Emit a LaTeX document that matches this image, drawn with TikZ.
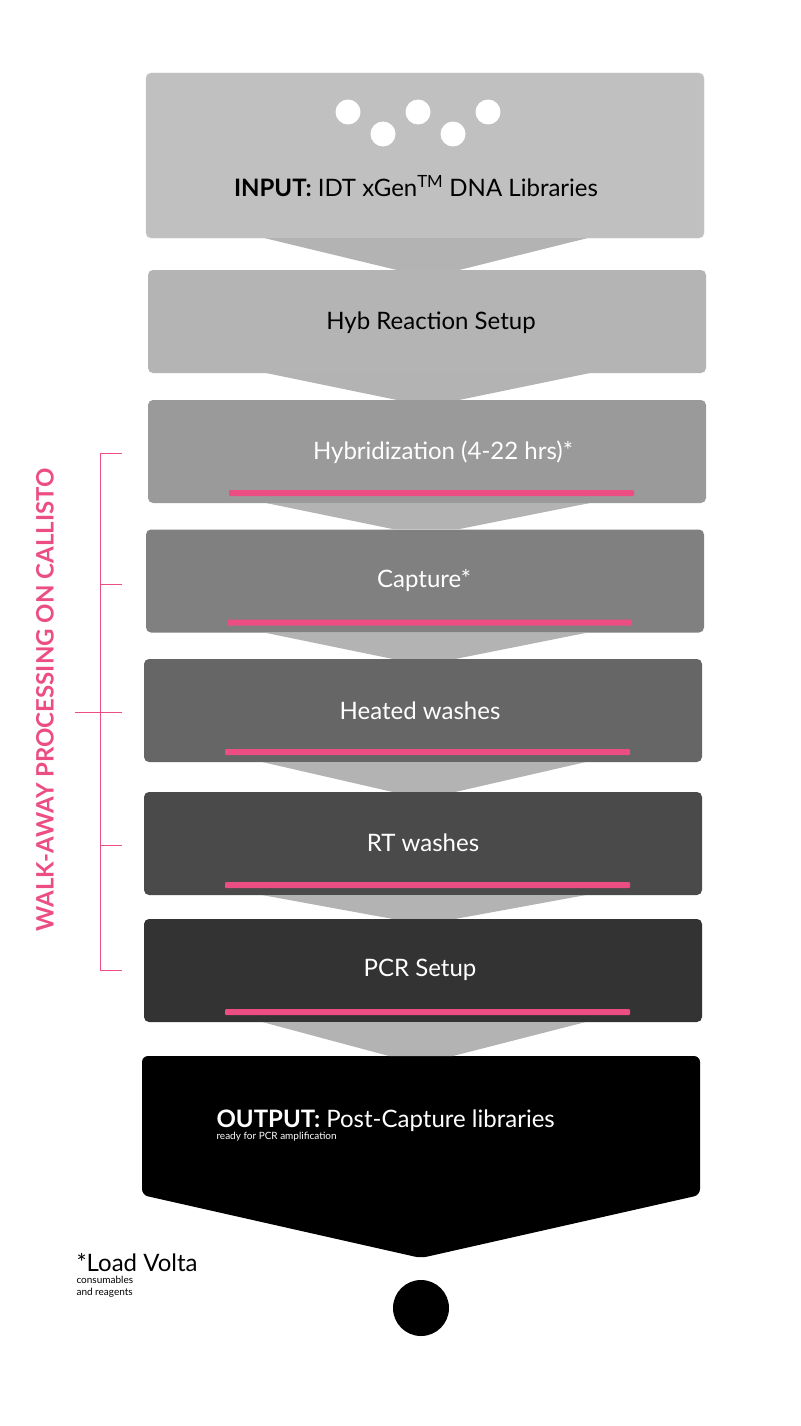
\documentclass[tikz,border=0pt]{standalone}
\usepackage{fontspec}
\setmainfont{Lato}
\usetikzlibrary{calc}
\definecolor{pinkc}{HTML}{EC4E84}
\definecolor{connc}{HTML}{B3B3B3}
\tikzset{
  stepbox/.style={rectangle, rounded corners=5pt, minimum width=558pt, minimum height=103pt, inner sep=0pt, font=\fontsize{24}{28}\selectfont},
  conn/.style={fill=connc},
  pinkbar/.style={fill=pinkc, rounded corners=1pt},
  brk/.style={draw=pinkc, line width=1pt}
}
\begin{document}
\begin{tikzpicture}[x={(1pt,0)}, y={(0,-1pt)}]
\useasboundingbox (0,0) rectangle (800,1426);
\fill[white] (0,0) rectangle (800,1426);
% boxes
\node[stepbox, fill={rgb,255:red,192;green,192;blue,192}, minimum height=165pt, draw={rgb,255:red,205;green,205;blue,205}] (b1) at (425,155.5) {};
\node (t1) at (416,186) {\fontsize{24}{28}\selectfont\textbf{INPUT:} IDT xGen\textsuperscript{TM} DNA Libraries};
\foreach \i/\x/\y in {1/348/112,2/383/134,3/418/112,4/453/134,5/488/112}
  \fill[white] (\x,\y) circle (12.5);
\node[stepbox, fill={rgb,255:red,180;green,180;blue,180}, text={rgb,255:red,20;green,20;blue,20}] (b2) at (427,321.5) {};
\node (t2) at (431,323) {\fontsize{24}{28}\selectfont Hyb Reaction Setup};
\node[stepbox, fill={rgb,255:red,154;green,154;blue,154}] (b3) at (427,451.5) {};
\node[text=white] (t3) at (443,452) {\fontsize{24}{28}\selectfont Hybridization (4-22 hrs)*};
\node[stepbox, fill={rgb,255:red,128;green,128;blue,128}] (b4) at (425,581) {};
\node[text=white] (t4) at (424,581) {\fontsize{24}{28}\selectfont Capture*};
\node[stepbox, fill={rgb,255:red,102;green,102;blue,102}] (b5) at (423,710.5) {};
\node[text=white] (t5) at (420,711) {\fontsize{24}{28}\selectfont Heated washes};
\node[stepbox, fill={rgb,255:red,74;green,74;blue,74}] (b6) at (423,843.5) {};
\node[text=white] (t6) at (423,843) {\fontsize{24}{28}\selectfont RT washes};
\node[stepbox, fill={rgb,255:red,51;green,51;blue,51}] (b7) at (423,970.5) {};
\node[text=white] (t7) at (420,970) {\fontsize{24}{28}\selectfont PCR Setup};
% pink bars
\foreach \b in {b3,b4,b5,b6,b7}
  \fill[pinkbar] ($(\b.south)+(-198,-13)$) rectangle ($(\b.south)+(207,-7)$);
% output pentagon
\coordinate (o1) at (142,1056);
\fill[black, rounded corners=6pt] (142,1056) -- (700,1056) -- (700,1195) -- (421,1258) -- (142,1195) -- cycle;
\node[text=white, align=left, anchor=west] (b8) at (213,1126) {\fontsize{24}{32}\selectfont\textbf{OUTPUT:} Post-Capture libraries\\ ready for PCR amplification};
\coordinate (b8n) at (421,1056);
% connectors
\foreach \a/\c in {b1/b2,b2/b3,b3/b4,b4/b5,b5/b6,b6/b7}
  \fill[conn] ($(\a.south)+(-160,0)$) -- ($(\a.south)+(162,0)$) -- ($(\c.north)+(33,0)$) -- ($(\c.north)+(-31,0)$) -- cycle;
\fill[conn] ($(b7.south)+(-160,0)$) -- ($(b7.south)+(162,0)$) -- ($(b8n)+(32,0)$) -- ($(b8n)+(-32,0)$) -- cycle;
% dot
\fill[black] (421,1308) circle (28) node (dot) {};
% footnote
\node[anchor=north west, align=left] (fn) at (73,1250) {\fontsize{24}{33}\selectfont *Load Volta\\ consumables\\ and reagents};
% bracket
\coordinate (k1) at (100,453); \coordinate (k5) at (100,970);
\draw[brk] (k1) -- (k5);
\foreach \y in {453,584,845,970} \draw[brk] (100,\y) -- (122,\y);
\draw[brk] (75,712) -- (122,712);
\node[rotate=90, text=pinkc] (lbl) at (45,700) {\fontsize{24}{28}\selectfont\textbf{WALK-AWAY PROCESSING ON CALLISTO}};
\end{tikzpicture}
\end{document}
